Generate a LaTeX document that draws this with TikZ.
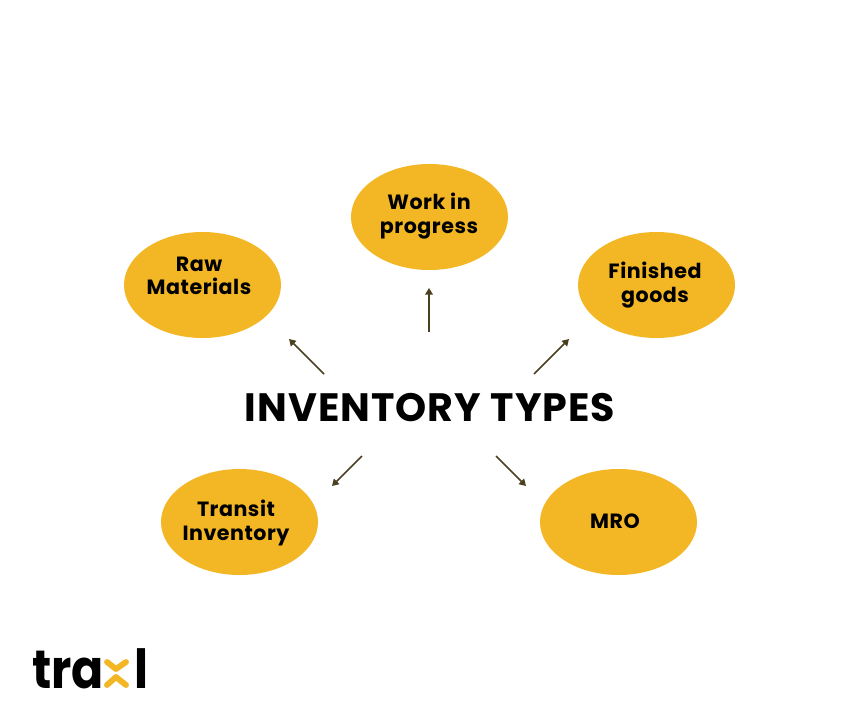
\documentclass[tikz,border=0pt]{standalone}
\usepackage{fontspec}
\setmainfont{Poppins}[LetterSpace=2.5]
\newfontfamily\logofont{Poppins}
\usepackage{graphicx}
\usepackage{tikz}
\usetikzlibrary{arrows.meta}
\usetikzlibrary{shapes.geometric}
\definecolor{traxlyellow}{HTML}{F3B725}
\definecolor{arrowbrown}{HTML}{4A4020}
\tikzset{>/.tip={Triangle[scale=0.9]},
  typeshape/.style={ellipse, fill=traxlyellow, minimum width=157*0.3mm, minimum height=106*0.3mm, inner sep=0pt},
  typetext/.style={align=center, font=\fontsize{17.6}{20.2}\selectfont\bfseries, text=black},
  typearrow/.style={->, draw=arrowbrown, line width=1.25pt},
  logotext/.style={font=\logofont\fontsize{46}{46}\selectfont\bfseries, anchor=base west, inner sep=0pt},
  logomark/.style={traxlyellow, line width=5pt, line cap=round, line join=round}}

\begin{document}
\begin{tikzpicture}[x=0.3mm,y=-0.3mm]
\useasboundingbox (0,0) rectangle (858,720);
\node[typeshape] (raw) at (202.5,285) {};
\node[typeshape] (wip) at (429.5,217) {};
\node[typeshape] (finished) at (656.5,285) {};
\node[typeshape] (transit) at (239.5,522) {};
\node[typeshape] (mro) at (618.5,522) {};

\node[typetext] (rawtext) at (199,276) {Raw\\Materials};
\node[typetext] (wiptext) at (429,216) {Work in\\progress};
\node[typetext] (finishedtext) at (655,285) {Finished\\goods};
\node[typetext] (transittext) at (236,523) {Transit\\Inventory};
\node[typetext] (mrotext) at (615,521) {MRO};

\node[font=\fontsize{33.8}{36}\selectfont\bfseries] (title) at (430,408) {INVENTORY TYPES};

% arrow ends
\coordinate (a1) at (324,374);
\coordinate (b1) at (289,339);
\coordinate (a2) at (429,332);
\coordinate (b2) at (429,288);
\coordinate (a3) at (534,374);
\coordinate (b3) at (569,339);
\coordinate (a4) at (362,456);
\coordinate (b4) at (332,486);
\coordinate (a5) at (496,456);
\coordinate (b5) at (526,486);

\draw[typearrow] (a1) to (b1);
\draw[typearrow] (a2) to (b2);
\draw[typearrow] (a3) to (b3);
\draw[typearrow] (a4) to (b4);
\draw[typearrow] (a5) to (b5);

% logo
\node[logotext] (logotra) at (32,688) {\scalebox{0.88}[1]{tra}};
\node[logotext] (logol) at (134,688) {\scalebox{0.88}[1]{l}};
\coordinate (x1) at (107,662);
\coordinate (x2) at (116,669);
\coordinate (x3) at (126,662);
\coordinate (x4) at (107,685);
\coordinate (x5) at (116,677);
\coordinate (x6) at (126,685);
\draw[logomark] (x1) -- (x2) -- (x3);
\draw[logomark] (x4) -- (x5) -- (x6);
\end{tikzpicture}
\end{document}
